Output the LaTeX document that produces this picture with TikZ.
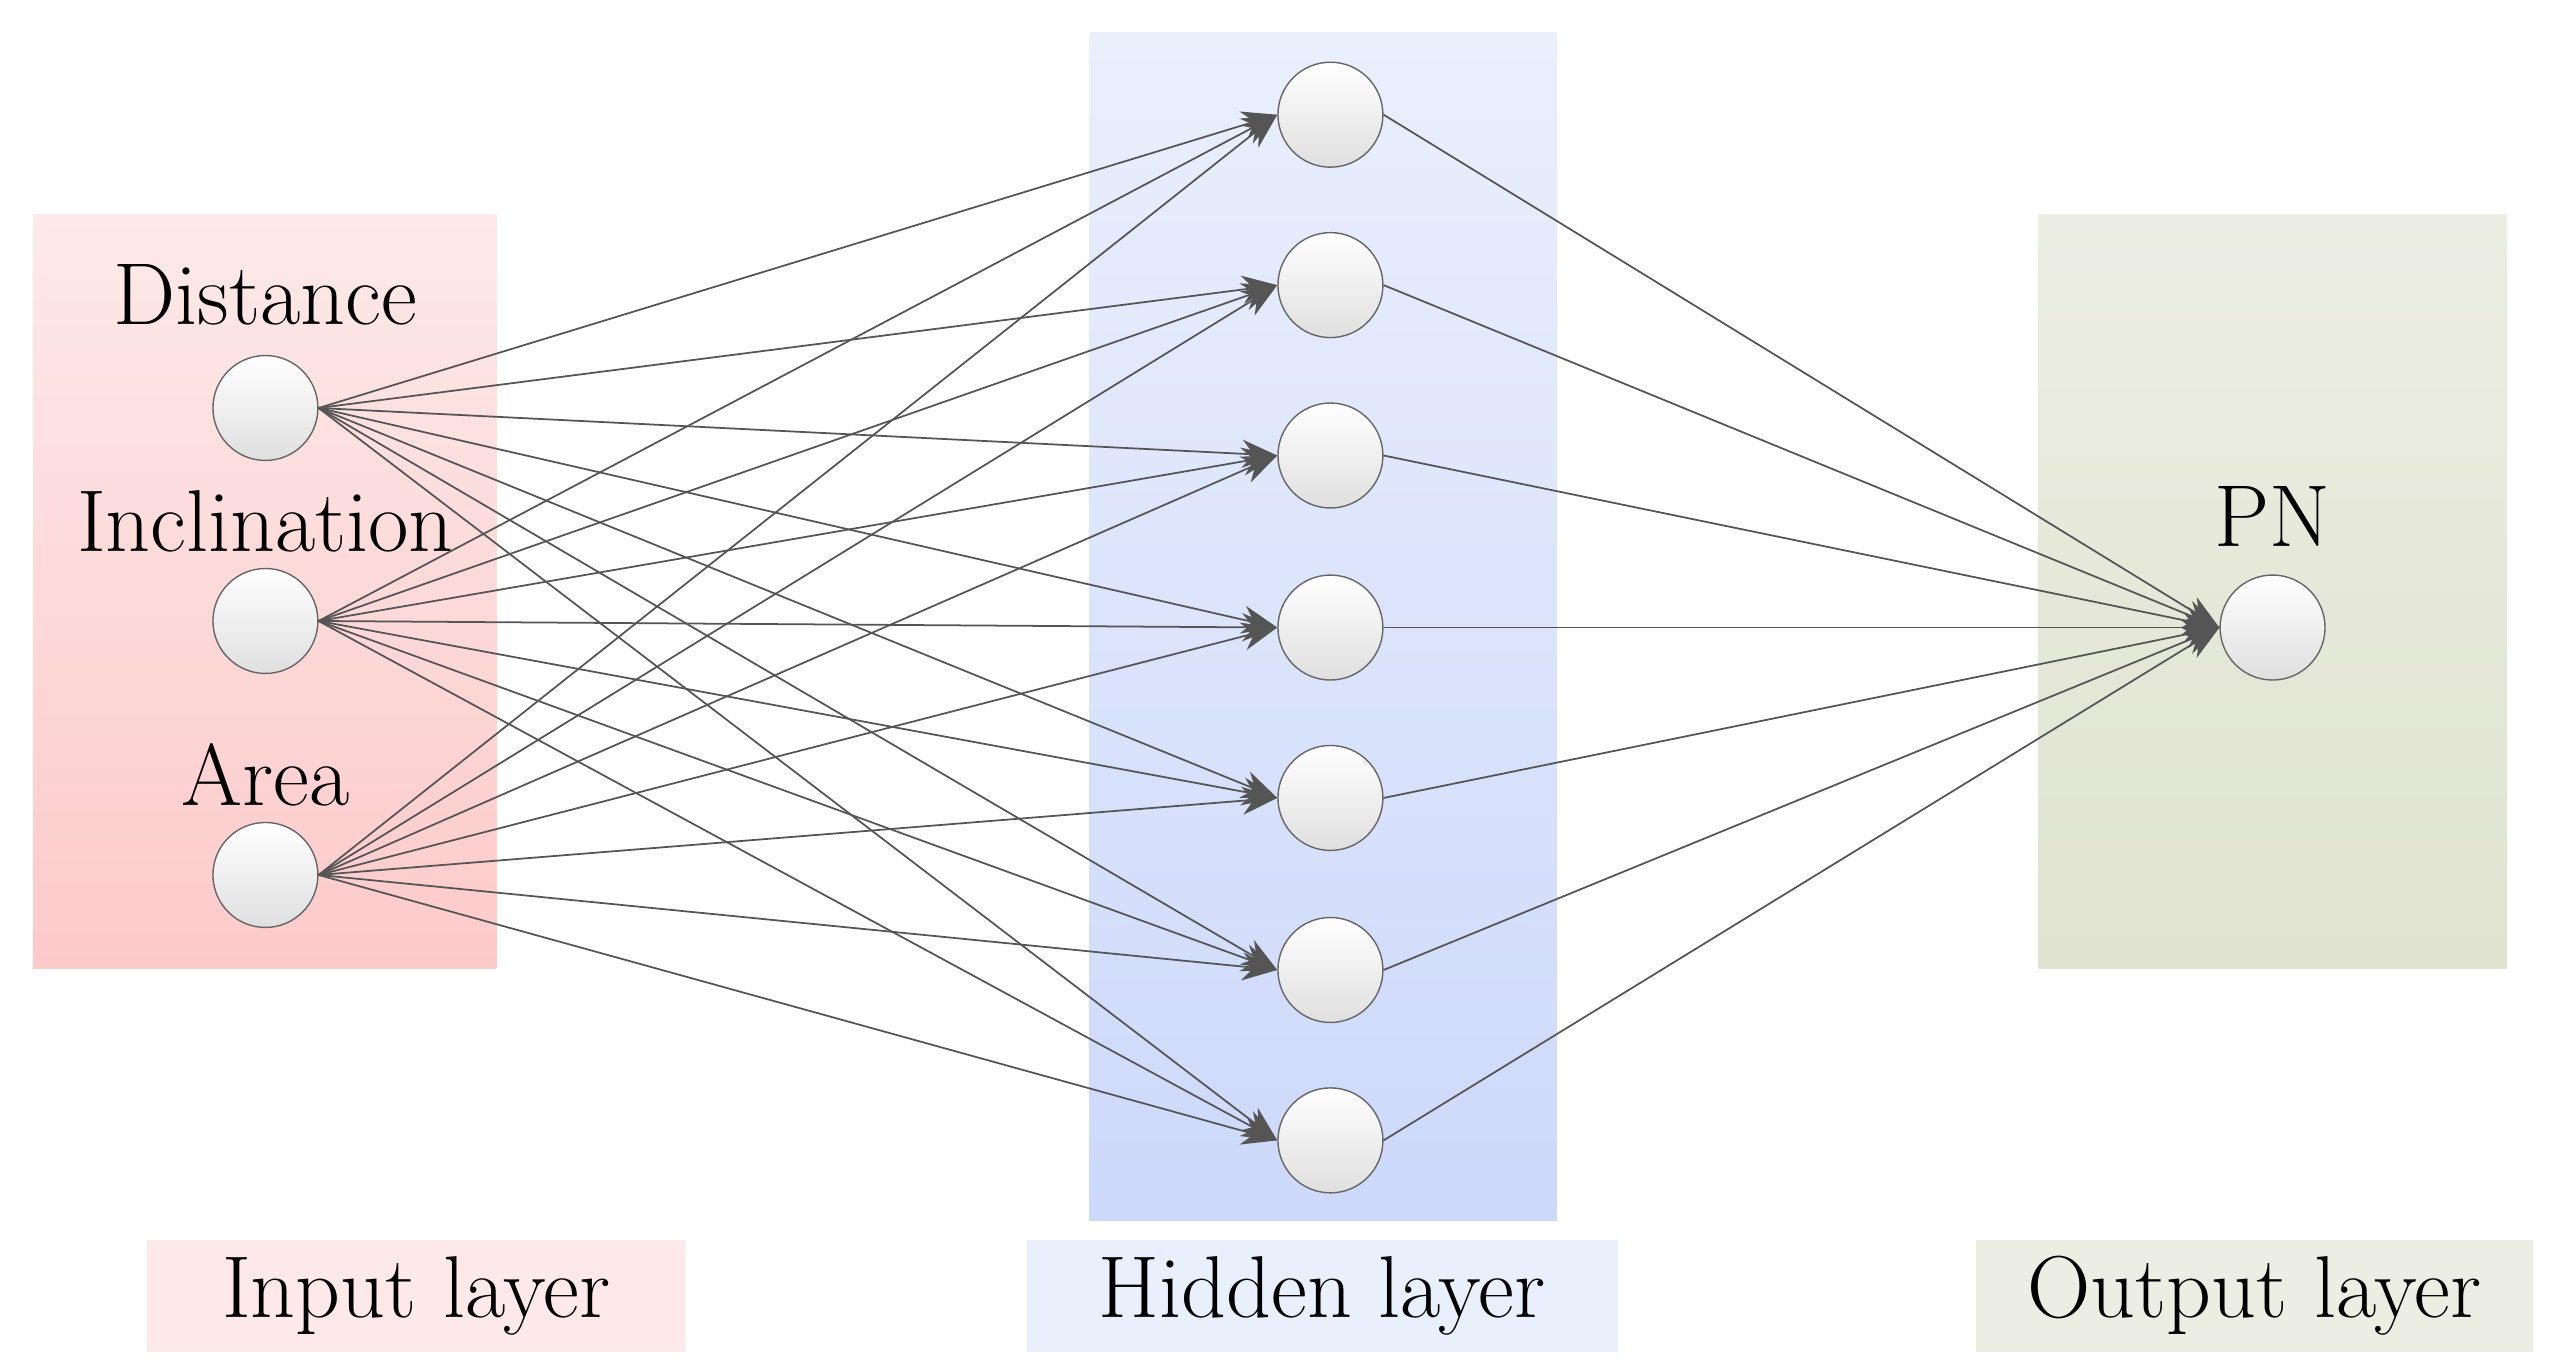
\documentclass[tikz,border=0pt]{standalone}
\usepackage{tikz}
\usetikzlibrary{arrows.meta}

\definecolor{inTop}{HTML}{FDE9E9}
\definecolor{inBot}{HTML}{FDCACA}
\definecolor{hidTop}{HTML}{EAEFFC}
\definecolor{hidBot}{HTML}{CDD9FB}
\definecolor{outTop}{HTML}{ECEEE3}
\definecolor{outBot}{HTML}{DFE3CF}
\definecolor{wire}{HTML}{555555}

\tikzset{
  neuron/.style={circle, draw=gray!80!black, thin, minimum size=0.0164*64cm, inner sep=0pt,
    top color=white, bottom color=gray!25},
  caption/.style={font=\fontsize{25}{30}\selectfont},
  wire/.style={draw=wire, line width=0.5pt},
  feed/.style={wire, -{Stealth[length=10pt, width=8pt]}}
}

\begin{document}
\begin{tikzpicture}[x=0.016385cm, y=-0.016385cm]
    \useasboundingbox (0, 0) rectangle (1560, 835);
    % layer backgrounds
    \shade[top color=inTop, bottom color=inBot] (20, 131) rectangle (303, 591);
    \shade[top color=hidTop, bottom color=hidBot] (665, 20) rectangle (950, 745);
    \shade[top color=outTop, bottom color=outBot] (1244, 131) rectangle (1530, 591);
    % layer captions
    \node[caption, fill=inTop, minimum width=328*0.016385cm, minimum height=68*0.016385cm] (capIn) at (254, 791) {Input layer};
    \node[caption, fill=hidTop, minimum width=361*0.016385cm, minimum height=68*0.016385cm] (capHid) at (807, 791) {Hidden layer};
    \node[caption, fill=outTop, minimum width=340*0.016385cm, minimum height=68*0.016385cm] (capOut) at (1376, 791) {Output layer};
    % neurons
    \node[neuron] (in1) at (162, 249) {};
    \node[neuron] (in2) at (162, 379) {};
    \node[neuron] (in3) at (162, 534) {};
    \foreach \i/\y in {1/70, 2/174, 3/278, 4/383, 5/487, 6/592, 7/696}
      \node[neuron] (h\i) at (812, \y) {};
    \node[neuron] (out) at (1387, 383) {};
    % names
    \node[caption] (lDist) at (162, 180) {Distance};
    \node[caption] (lIncl) at (162, 318) {Inclination};
    \node[caption] (lArea) at (162, 473) {Area};
    \node[caption] (lPN) at (1387, 315) {PN};
    % connections
    \foreach \a in {1, 2, 3}
      \foreach \b in {1, ..., 7}
        \draw[feed] (in\a.east) -- (h\b.west);
    \foreach \b in {1, ..., 7}
      \draw[feed] (h\b.east) -- (out.west);
\end{tikzpicture}
\end{document}
